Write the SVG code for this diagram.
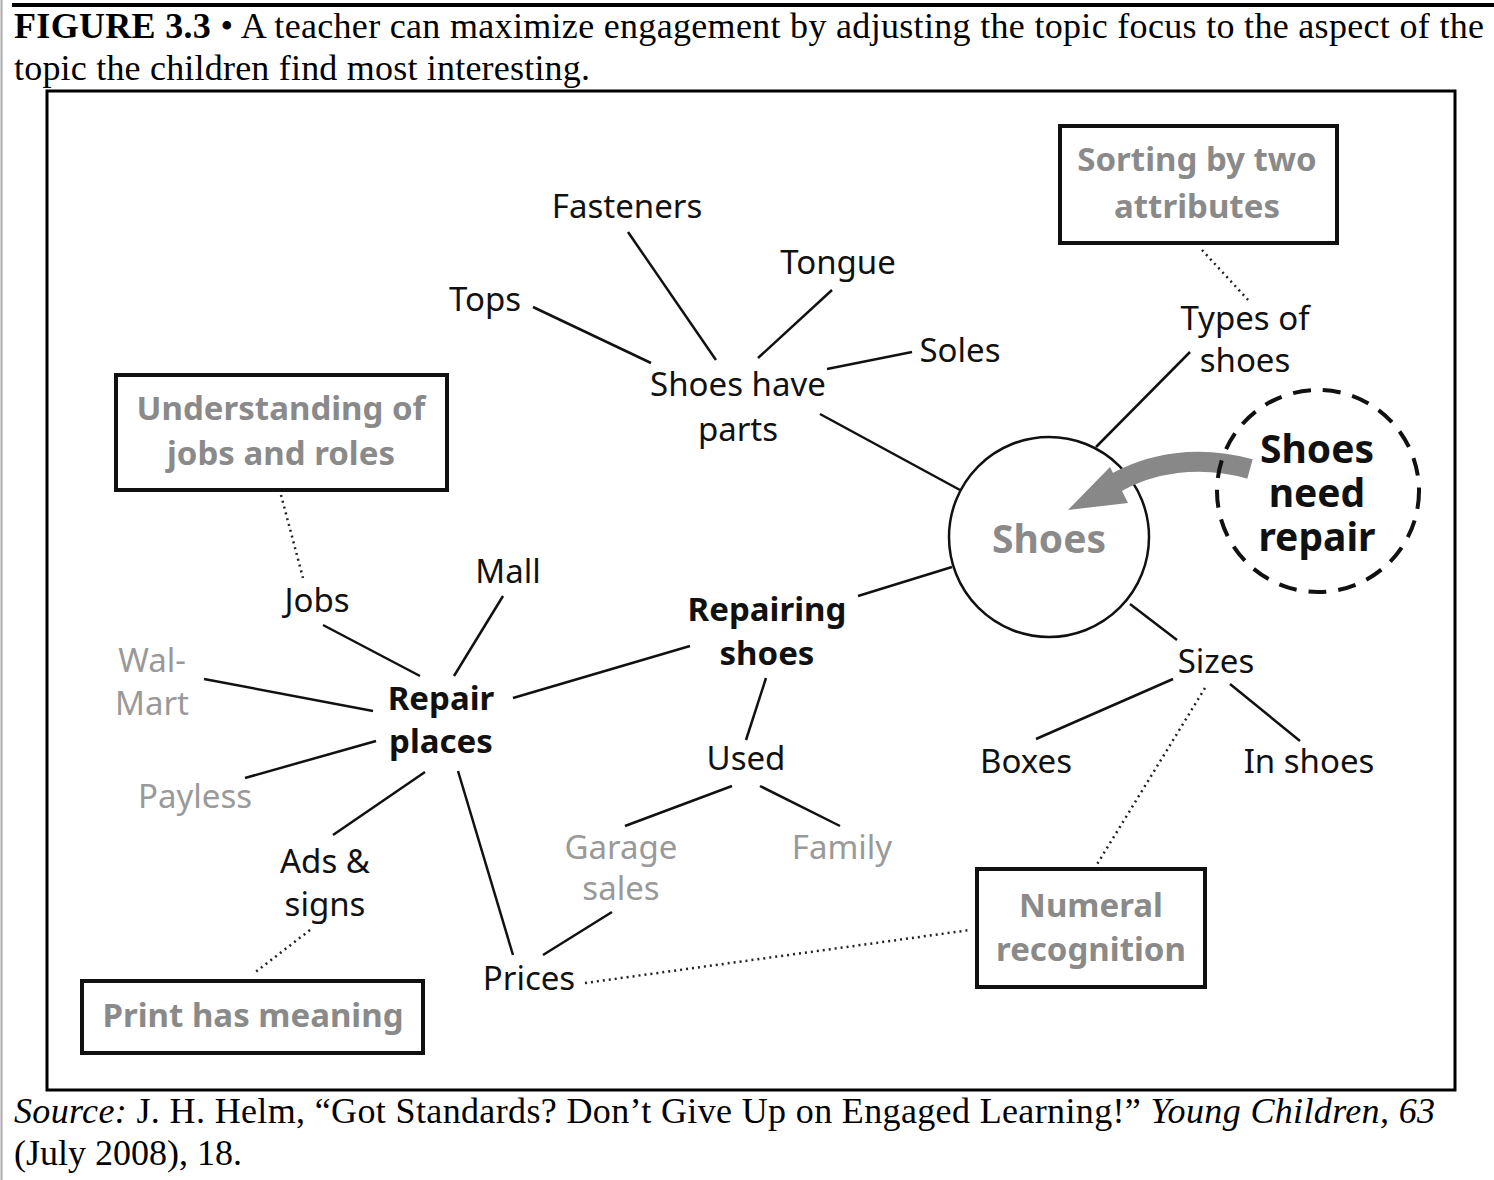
<svg xmlns="http://www.w3.org/2000/svg" width="1494" height="1180" viewBox="0 0 1494 1180">
<style>
.cap{font-family:"Liberation Serif",serif;font-size:36px;fill:#000}
.n{font-family:"Noto Sans","Open Sans",sans-serif;font-size:33px;fill:#111;text-anchor:middle}
.g{fill:#999}
.b{font-weight:bold}
.gb{fill:#8a8a8a;font-weight:bold}
.big{font-size:39px}
.ln{stroke:#111;stroke-width:2.5;fill:none}
.dt{stroke:#222;stroke-width:2.5;fill:none;stroke-dasharray:2 4}
.box{fill:#fff;stroke:#111;stroke-width:4}
</style>
<rect width="1494" height="1180" fill="#fff"/>
<line x1="1.5" y1="0" x2="1.5" y2="1180" stroke="#aaa" stroke-width="2"/>
<line x1="12" y1="5" x2="1494" y2="5" stroke="#000" stroke-width="4"/>
<text class="cap" x="14" y="38" textLength="1470" lengthAdjust="spacing"><tspan font-weight="bold">FIGURE 3.3</tspan> • A teacher can maximize engagement by adjusting the topic focus to the aspect of the</text>
<text class="cap" x="14" y="80" textLength="576" lengthAdjust="spacing">topic the children find most interesting.</text>
<rect x="47" y="91" width="1408" height="999" fill="none" stroke="#000" stroke-width="3"/>
<text class="cap" x="14" y="1123" textLength="1421" lengthAdjust="spacing"><tspan font-style="italic">Source:</tspan> J. H. Helm, “Got Standards? Don’t Give Up on Engaged Learning!” <tspan font-style="italic">Young Children, 63</tspan></text>
<text class="cap" x="14" y="1165">(July 2008), 18.</text>
<g id="connectors">
<line class="ln" x1="628" y1="232" x2="716" y2="360"/>
<line class="ln" x1="832" y1="290" x2="758" y2="358"/>
<line class="ln" x1="533" y1="307" x2="651" y2="363"/>
<line class="ln" x1="912" y1="352" x2="827" y2="369"/>
<line class="ln" x1="820" y1="414" x2="960" y2="490"/>
<line class="ln" x1="1190" y1="352" x2="1096" y2="447"/>
<line class="dt" x1="1202" y1="250" x2="1250" y2="302"/>
<line class="ln" x1="952" y1="567" x2="858" y2="596"/>
<line class="ln" x1="1130" y1="604" x2="1177" y2="640"/>
<line class="ln" x1="1173" y1="679" x2="1036" y2="739"/>
<line class="ln" x1="1230" y1="684" x2="1300" y2="741"/>
<line class="dt" x1="1205" y1="688" x2="1096" y2="866"/>
<line class="dt" x1="281" y1="495" x2="303" y2="578"/>
<line class="ln" x1="323" y1="625" x2="420" y2="676"/>
<line class="ln" x1="503" y1="596" x2="454" y2="676"/>
<line class="ln" x1="204" y1="679" x2="373" y2="711"/>
<line class="ln" x1="690" y1="646" x2="513" y2="698"/>
<line class="ln" x1="245" y1="778" x2="376" y2="741"/>
<line class="ln" x1="425" y1="772" x2="333" y2="835"/>
<line class="ln" x1="458" y1="771" x2="513" y2="955"/>
<line class="ln" x1="766" y1="678" x2="746" y2="740"/>
<line class="ln" x1="732" y1="786" x2="625" y2="826"/>
<line class="ln" x1="760" y1="786" x2="840" y2="826"/>
<line class="ln" x1="612" y1="912" x2="543" y2="955"/>
<line class="dt" x1="310" y1="930" x2="253" y2="974"/>
<line class="dt" x1="585" y1="983" x2="970" y2="930"/>
</g>
<g id="shoes"><circle cx="1049" cy="537" r="100" fill="#fff" stroke="#111" stroke-width="2.5"/><text class="n gb big" x="1049" y="553">Shoes</text></g>
<g id="arrow"><path d="M1250,469 C1200,455 1150,462 1112,485" stroke="#888" stroke-width="20" fill="none"/><polygon points="1068,510 1110,467 1128,503" fill="#888"/></g>
<g id="need-repair"><circle cx="1318" cy="491" r="101" fill="none" stroke="#111" stroke-width="4" stroke-dasharray="18 12"/><text class="n b big" x="1317" y="463">Shoes</text><text class="n b big" x="1317" y="507">need</text><text class="n b big" x="1317" y="551">repair</text></g>
<g id="fasteners"><text class="n" x="627" y="218">Fasteners</text></g>
<g id="tongue"><text class="n" x="838" y="274">Tongue</text></g>
<g id="tops"><text class="n" x="485" y="311">Tops</text></g>
<g id="soles"><text class="n" x="960" y="362">Soles</text></g>
<g id="parts"><text class="n" x="738" y="396">Shoes have</text><text class="n" x="738" y="441">parts</text></g>
<g id="sorting"><rect class="box" x="1060" y="126" width="277" height="117"/><text class="n gb" x="1197" y="171">Sorting by two</text><text class="n gb" x="1197" y="218">attributes</text></g>
<g id="types"><text class="n" x="1245" y="330">Types of</text><text class="n" x="1245" y="372">shoes</text></g>
<g id="understanding"><rect class="box" x="116" y="375" width="331" height="115"/><text class="n gb" x="281" y="420">Understanding of</text><text class="n gb" x="281" y="465">jobs and roles</text></g>
<g id="jobs"><text class="n" x="317" y="612">Jobs</text></g>
<g id="mall"><text class="n" x="508" y="583">Mall</text></g>
<g id="walmart"><text class="n g" x="152" y="672">Wal-</text><text class="n g" x="152" y="715">Mart</text></g>
<g id="repair-places"><text class="n b" x="441" y="710">Repair</text><text class="n b" x="441" y="753">places</text></g>
<g id="repairing"><text class="n b" x="767" y="621">Repairing</text><text class="n b" x="767" y="665">shoes</text></g>
<g id="payless"><text class="n g" x="195" y="808">Payless</text></g>
<g id="used"><text class="n" x="746" y="770">Used</text></g>
<g id="sizes"><text class="n" x="1216" y="673">Sizes</text></g>
<g id="boxes"><text class="n" x="1026" y="773">Boxes</text></g>
<g id="inshoes"><text class="n" x="1309" y="773">In shoes</text></g>
<g id="garage"><text class="n g" x="621" y="859">Garage</text><text class="n g" x="621" y="900">sales</text></g>
<g id="family"><text class="n g" x="842" y="859">Family</text></g>
<g id="ads"><text class="n" x="325" y="873">Ads &amp;</text><text class="n" x="325" y="916">signs</text></g>
<g id="numeral"><rect class="box" x="977" y="869" width="228" height="118"/><text class="n gb" x="1091" y="917">Numeral</text><text class="n gb" x="1091" y="961">recognition</text></g>
<g id="prices"><text class="n" x="529" y="990">Prices</text></g>
<g id="print"><rect class="box" x="82" y="981" width="341" height="72"/><text class="n gb" x="253" y="1027">Print has meaning</text></g>
</svg>
